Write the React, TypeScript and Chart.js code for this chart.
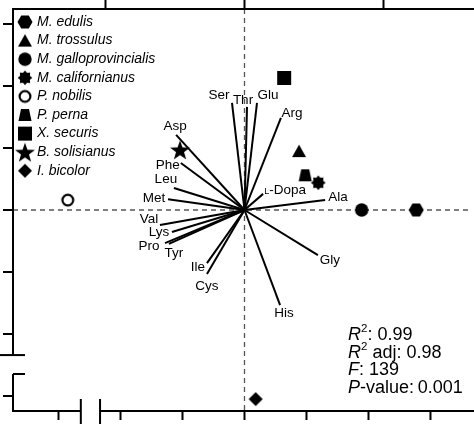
import { useEffect, useRef } from "react";
import { Chart, registerables } from "chart.js";

Chart.register(...registerables);

// species scores (plot units)
const species = [
  "M. edulis",
  "M. trossulus",
  "M. galloprovincialis",
  "M. californianus",
  "P. nobilis",
  "P. perna",
  "X. securis",
  "B. solisianus",
  "I. bicolor",
];
const speciesX = [2.77, 0.88, 1.89, 1.19, -2.85, 0.98, 0.64, -1.04, 0.18];
const speciesY = [0, 0.95, 0, 0.44, 0.16, 0.56, 2.13, 0.97, -3.05];
const speciesMarker = [
  "hexagon",
  "triangle",
  "circle",
  "cog",
  "openCircle",
  "trapezoid",
  "square",
  "star",
  "diamond",
];

// amino acid loadings (top axis units)
const aminoAcids = [
  "Ser", "Thr", "Glu", "Arg", "Asp", "Phe", "Leu", "Met", "L-Dopa",
  "Ala", "Val", "Lys", "Pro", "Tyr", "Ile", "Cys", "His", "Gly",
];
const loadingX = [
  -0.045, 0.009, 0.045, 0.131, -0.246, -0.229, -0.254, -0.275, 0.067,
  0.29, -0.304, -0.261, -0.286, -0.272, -0.135, -0.135, 0.128, 0.264,
];
const loadingY = [
  0.385, 0.371, 0.385, 0.331, 0.27, 0.169, 0.079, 0.039, 0.058,
  0.036, -0.054, -0.079, -0.119, -0.122, -0.191, -0.23, -0.342, -0.162,
];

const xTicks = [-3, -2, -1, 0, 1, 2, 3];
const yTicks = [3, 2, 1, 0, -1, -2, -3];
const topTicks = [-0.5, 0, 0.5];

const stats = [
  { name: "R", sup: "2", rest: ": 0.99" },
  { name: "R", sup: "2", rest: " adj: 0.98" },
  { name: "F", sup: "", rest: ": 139" },
  { name: "P", sup: "", rest: "-value:\u20090.001" },
];

// label placement (pixel offsets from the end of each arrow)
const labelOffset: [number, number][] = [
  [-13, -8], [-4, -7], [11, -8], [11, -5], [-1, -9], [-13, 2], [-8, -9],
  [-14, -1], [22, -4], [13, -3], [-11, -6], [-13, 0], [-16, 3], [5, 9],
  [-9, 4], [0, 12], [4, 8], [12, 5],
];

const FONT = "'Liberation Sans', Arial, sans-serif";

function makeMarker(kind: string): HTMLCanvasElement {
  const s = kind === "star" ? 22 : 16;
  const c = document.createElement("canvas");
  c.width = s;
  c.height = s;
  const g = c.getContext("2d")!;
  const m = s / 2;
  g.fillStyle = "#000";
  g.strokeStyle = "#000";
  g.beginPath();
  if (kind === "hexagon") {
    for (let i = 0; i < 6; i++) {
      const a = (i * Math.PI) / 3;
      g.lineTo(m + 7.5 * Math.cos(a), m + 7.5 * Math.sin(a));
    }
    g.closePath();
    g.fill();
  } else if (kind === "triangle") {
    g.moveTo(m, m - 6.5);
    g.lineTo(m + 7, m + 6);
    g.lineTo(m - 7, m + 6);
    g.closePath();
    g.fill();
  } else if (kind === "circle") {
    g.arc(m, m, 6.7, 0, Math.PI * 2);
    g.fill();
  } else if (kind === "cog") {
    for (let i = 0; i < 16; i++) {
      const a = (i * Math.PI) / 8;
      const r = i % 2 === 0 ? 7.3 : 5.3;
      g.lineTo(m + r * Math.cos(a), m + r * Math.sin(a));
    }
    g.closePath();
    g.fill();
  } else if (kind === "openCircle") {
    g.fillStyle = "#fff";
    g.lineWidth = 2.2;
    g.arc(m, m, 5.4, 0, Math.PI * 2);
    g.fill();
    g.stroke();
  } else if (kind === "trapezoid") {
    g.moveTo(m - 4, m - 6);
    g.lineTo(m + 4, m - 6);
    g.lineTo(m + 6.5, m + 6);
    g.lineTo(m - 6.5, m + 6);
    g.closePath();
    g.fill();
  } else if (kind === "square") {
    g.rect(m - 7, m - 7, 14, 14);
    g.fill();
  } else if (kind === "star") {
    for (let i = 0; i < 10; i++) {
      const a = -Math.PI / 2 + (i * Math.PI) / 5;
      const r = i % 2 === 0 ? 10.5 : 4.2;
      g.lineTo(m + r * Math.cos(a), m + 1 + r * Math.sin(a));
    }
    g.closePath();
    g.fill();
  } else if (kind === "diamond") {
    g.moveTo(m, m - 7);
    g.lineTo(m + 7, m);
    g.lineTo(m, m + 7);
    g.lineTo(m - 7, m);
    g.closePath();
    g.fill();
  }
  return c;
}

function App() {
  const chartRef = useRef<HTMLCanvasElement | null>(null);
  const chartInstance = useRef<Chart | null>(null);

  useEffect(() => {
    document.body.style.margin = "0";
    document.body.style.overflow = "hidden";

    if (!chartRef.current) return;
    const ctx = chartRef.current.getContext("2d");
    if (!ctx) return;

    if (chartInstance.current) {
      chartInstance.current.destroy();
    }

    const markers = speciesMarker.map(makeMarker);

    const pointSets = species.map((name, i) => ({
      type: "scatter" as const,
      label: name,
      data: [{ x: speciesX[i], y: speciesY[i] }],
      pointStyle: markers[i],
      pointRadius: 7,
      clip: false as const,
      xAxisID: "x",
      yAxisID: "y",
    }));

    const lineSets = aminoAcids.map((name, i) => ({
      type: "line" as const,
      label: name,
      data: [
        { x: 0, y: 0 },
        { x: loadingX[i], y: loadingY[i] },
      ],
      borderColor: "#000",
      borderWidth: 2,
      pointRadius: 0,
      xAxisID: "x2",
      yAxisID: "y2",
    }));

    const decor = {
      id: "decor",
      beforeDatasetsDraw(chart: Chart) {
        const c = chart.ctx;
        const { left, top, right, bottom } = chart.chartArea;
        const x0 = chart.scales.x.getPixelForValue(0);
        const y0 = chart.scales.y.getPixelForValue(0);
        c.save();
        c.strokeStyle = "#555";
        c.lineWidth = 1.3;
        c.setLineDash([5, 4]);
        c.beginPath();
        c.moveTo(left, y0);
        c.lineTo(right - 4, y0);
        c.moveTo(x0, top);
        c.lineTo(x0, bottom);
        c.stroke();
        c.restore();
      },
      afterDraw(chart: Chart) {
        const c = chart.ctx;
        const { left, top, right, bottom } = chart.chartArea;
        const sx = chart.scales.x;
        const sy = chart.scales.y;
        const sx2 = chart.scales.x2;
        const sy2 = chart.scales.y2;
        const seg = (a: number, b: number, d: number, e: number) => {
          c.beginPath();
          c.moveTo(a, b);
          c.lineTo(d, e);
          c.stroke();
        };
        c.save();
        c.strokeStyle = "#000";
        c.lineWidth = 2;

        // top axis
        seg(left - 1, top, right, top);
        topTicks.forEach((v) => {
          const px = sx2.getPixelForValue(v);
          seg(px, top, px, 0);
        });

        // left axis with break
        const yb1 = sy.getPixelForValue(-2.34);
        const yb2 = sy.getPixelForValue(-2.645);
        seg(left, top - 1, left, yb1);
        seg(left, yb2, left, bottom + 1);
        seg(0, yb1, left + 12, yb1);
        seg(left, yb2, left + 12, yb2);
        yTicks.forEach((v) => {
          const py = sy.getPixelForValue(v);
          seg(left - 10, py, left, py);
        });

        // bottom axis with break
        const xb1 = sx.getPixelForValue(-2.64);
        const xb2 = sx.getPixelForValue(-2.33);
        seg(left - 1, bottom, xb1, bottom);
        seg(xb2, bottom, right, bottom);
        seg(xb1, bottom - 12, xb1, chart.height);
        seg(xb2, bottom - 12, xb2, chart.height);
        xTicks.forEach((v) => {
          const px = sx.getPixelForValue(v);
          seg(px, bottom, px, bottom + 9);
        });

        // loading labels
        c.fillStyle = "#000";
        c.textBaseline = "middle";
        aminoAcids.forEach((name, i) => {
          const px = sx2.getPixelForValue(loadingX[i]) + labelOffset[i][0];
          const py = sy2.getPixelForValue(loadingY[i]) + labelOffset[i][1];
          if (name.startsWith("L-")) {
            c.font = `9px ${FONT}`;
            const w1 = c.measureText("L").width;
            c.font = `13.5px ${FONT}`;
            const rest = name.slice(1);
            const w2 = c.measureText(rest).width;
            const sx0 = px - (w1 + w2) / 2;
            c.textAlign = "left";
            c.font = `9px ${FONT}`;
            c.fillText("L", sx0, py + 1.5);
            c.font = `13.5px ${FONT}`;
            c.fillText(rest, sx0 + w1, py);
          } else {
            c.textAlign = "center";
            c.font = `13.5px ${FONT}`;
            c.fillText(name, px, py);
          }
        });

        // legend
        c.textAlign = "left";
        c.font = `italic 14px ${FONT}`;
        species.forEach((name, i) => {
          const ly = 22 + i * 18.6;
          const mk = markers[i];
          c.drawImage(mk, 25 - mk.width / 2, ly - mk.height / 2);
          c.fillText(name, 37, ly);
        });

        // statistics
        stats.forEach((s, i) => {
          const ly = 335 + i * 17.7;
          let tx = 348;
          c.font = `italic 18px ${FONT}`;
          c.fillText(s.name, tx, ly);
          tx += c.measureText(s.name).width;
          if (s.sup) {
            c.font = `11.5px ${FONT}`;
            c.fillText(s.sup, tx, ly - 6);
            tx += c.measureText(s.sup).width;
          }
          c.font = `18px ${FONT}`;
          c.fillText(s.rest, tx, ly);
        });
        c.restore();
      },
    };

    chartInstance.current = new Chart(ctx, {
      type: "scatter",
      data: { datasets: [...pointSets, ...lineSets] as any },
      options: {
        animation: false,
        responsive: false,
        devicePixelRatio: 1,
        events: [],
        layout: {
          autoPadding: false,
          padding: { left: 13, top: 9, right: 0, bottom: 13 },
        },
        plugins: {
          legend: { display: false },
          tooltip: { enabled: false },
        },
        scales: {
          x: { type: "linear", display: false, min: -3.734, max: 3.702 },
          y: { type: "linear", display: false, min: -3.242, max: 3.242 },
          x2: { type: "linear", display: false, min: -0.8327, max: 0.8255 },
          y2: { type: "linear", display: false, min: -0.723, max: 0.723 },
        },
      },
      plugins: [decor],
    });

    return () => {
      if (chartInstance.current) {
        chartInstance.current.destroy();
        chartInstance.current = null;
      }
    };
  }, []);

  return (
    <div
      style={{
        position: "absolute",
        left: 0,
        top: 0,
        width: 474,
        height: 424,
        overflow: "hidden",
        background: "#fff",
      }}
    >
      <canvas
        ref={chartRef}
        width={474}
        height={424}
        style={{ display: "block", width: 474, height: 424 }}
      />
    </div>
  );
}

export default App;
